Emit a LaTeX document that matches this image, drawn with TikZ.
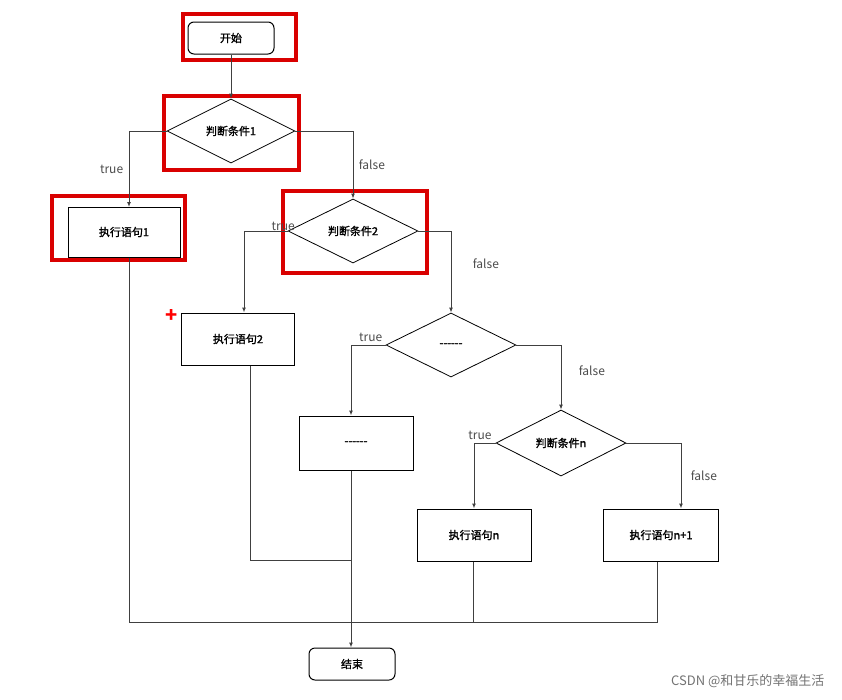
\documentclass[tikz,border=0pt]{standalone}
\usepackage{fontspec}
\setmainfont{Noto Sans CJK SC}
\newfontfamily\cjkb[FakeBold=1.5]{Noto Sans CJK SC}
\usetikzlibrary{shapes.geometric,arrows.meta}
\begin{document}
\begin{tikzpicture}[x=1pt,y=-1pt,
  box/.style={draw,line width=1pt,minimum width=113pt,minimum height=52pt,font=\cjkb\fontsize{11}{12}\selectfont,inner sep=0pt},
  term/.style={draw,line width=1pt,rounded corners=6pt,minimum width=86pt,minimum height=32pt,font=\cjkb\fontsize{11}{12}\selectfont},
  dia/.style={draw,line width=0.8pt,diamond,aspect=2,minimum width=128pt,minimum height=64pt,inner sep=0pt,font=\cjkb\fontsize{11}{12}\selectfont},
  hl/.style={draw=red!85!black,line width=3.5pt},
  con/.style={draw=black!75,line width=1pt},
  arr/.style={con,-{Latex[length=5pt,width=4pt]}},
  lab/.style={text=black!70,font=\fontsize{12}{14}\selectfont}]
\useasboundingbox (0,0) rectangle (842,699);
\node[term] (start) at (231,38) {开始};
\node[dia] (d1) at (231,131) {判断条件1};
\node[box,minimum width=112pt,minimum height=50pt] (b1) at (124,232) {执行语句1};
\node[dia,minimum width=130pt] (d2) at (353,231) {判断条件2};
\node[box] (b2) at (238,339) {执行语句2};
\node[dia,minimum width=130pt] (d3) at (451,345) {------};
\node[box,minimum width=114pt,minimum height=54pt] (b3) at (356,443) {------};
\node[dia,minimum width=130pt,minimum height=66pt] (dn) at (561,443) {判断条件n};
\node[box,minimum width=114pt] (bn) at (474,535) {执行语句n};
\node[box,minimum width=115pt] (bn1) at (661,535) {执行语句n+1};
\node[term] (end) at (352,664) {结束};
% highlights
\draw[hl] (183,14) rectangle (296,60);
\draw[hl] (164,96) rectangle (299,170);
\draw[hl] (52,196) rectangle (185,260);
\draw[hl] (283,191) rectangle (427,273);
\node[text=red,font=\fontsize{20}{20}\selectfont\bfseries] (plus) at (172,316) {+};
% connectors
\coordinate (j1) at (129,622);
\coordinate (j2) at (351,622);
\coordinate (j3) at (351,560);
\draw[arr] (start) -- (d1);
\draw[arr] (d1.west) -| (129,207) node[pos=0.75,left,lab,xshift=-2pt] {true};
\draw[arr] (d1.east) -| (d2.north) node[pos=0.75,right,lab,xshift=2pt] {false};
\draw[arr] (d2.west) -| (b2.north -| 244,0) node[pos=0.05,above,lab,yshift=-3pt] {true};
\draw[arr] (d2.east) -| (d3.north) node[pos=0.7,right,lab,xshift=18pt] {false};
\draw[arr] (d3.west) -| (b3.north -| 351,0) node[pos=0.05,above left,lab,xshift=4pt] {true};
\draw[arr] (d3.east) -| (dn.north) node[pos=0.7,right,lab,xshift=14pt] {false};
\draw[arr] (dn.west) -| (bn.north -| 474,0) node[pos=0.1,above left,lab,xshift=4pt] {true};
\draw[arr] (dn.east) -| (bn1.north -| 681,0) node[pos=0.75,right,lab,xshift=6pt] {false};
\draw[con] (b1.south -| 129,0) -- (j1) -- (j2);
\draw[con] (b2.south -| 250,0) |- (j3);
\draw[arr] (b3.south -| 351,0) -- (end.north -| 351,0);
\draw[con] (bn.south -| 473,0) -- (473,622);
\draw[con] (bn1.south -| 657,0) -- (657,622) -- (j2);
\node[text=black!55,font=\fontsize{13}{14}\selectfont,anchor=east] (wm) at (828,681) {CSDN @和甘乐的幸福生活};
\end{tikzpicture}
\end{document}
